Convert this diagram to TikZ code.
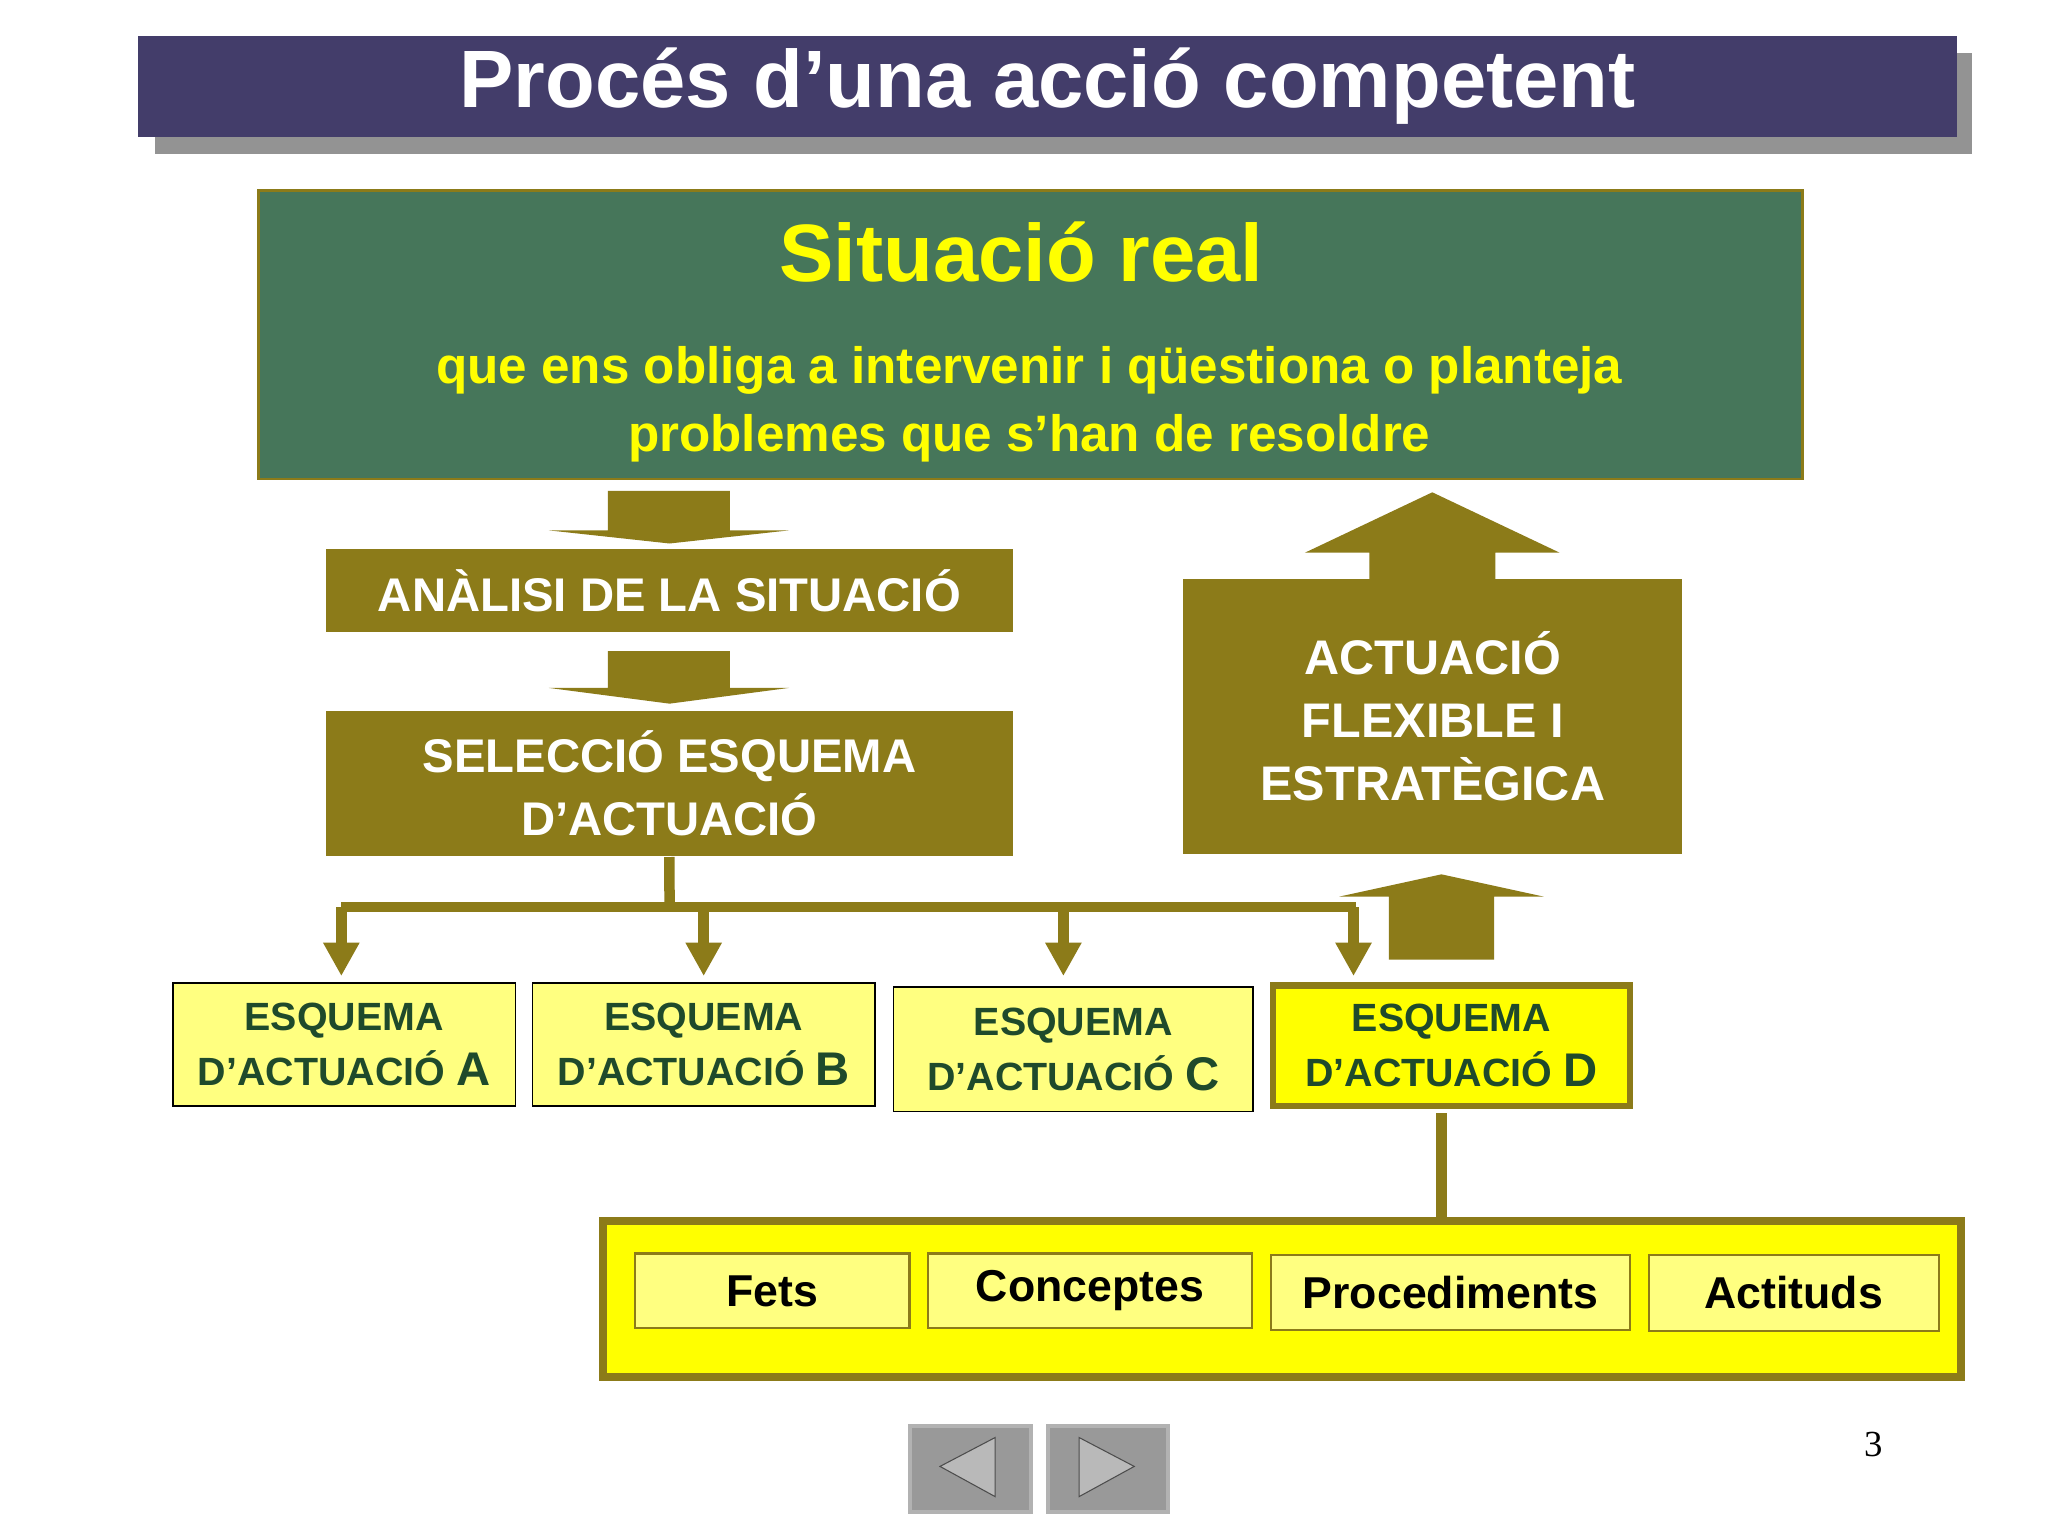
\documentclass[tikz,border=0pt]{standalone}
\usepackage{fontspec}
\setmainfont{Liberation Sans}
\definecolor{titlebg}{HTML}{433D6A}
\definecolor{greenbg}{HTML}{46765A}
\definecolor{olive}{HTML}{8C7B19}
\definecolor{lyel}{HTML}{FFFF80}
\definecolor{dgreen}{HTML}{1F4A2B}
\definecolor{ytxt}{HTML}{FFFF00}
\begin{document}
\begin{tikzpicture}[x=0.5pt,y=-0.5pt,
  olivebox/.style={fill=olive,draw=none,text=white,font=\bfseries\fontsize{18}{24}\selectfont,align=center,inner sep=0},
  esq/.style={fill=lyel,draw=black,line width=0.6pt,text=dgreen,font=\bfseries\fontsize{15}{21}\selectfont,align=center,inner sep=0},
  kbox/.style={fill=lyel,draw=olive,line width=0.8pt,text=black,font=\bfseries\fontsize{17}{20}\selectfont,inner sep=0},
  tree/.style={draw=olive,line width=4pt},
  navbtn/.style={fill=gray!80,draw=gray!60,line width=1.5pt}]
\useasboundingbox (0,0) rectangle (1560,1170);
\fill[white] (0,0) rectangle (1560,1170);
% title
\fill[gray!85] (118,40) rectangle (1502,117);
\node[fill=titlebg,minimum width=692.5pt,minimum height=38.5pt,inner sep=0,anchor=north west,text=white,font=\bfseries\fontsize{31}{36}\selectfont] (title) at (105,27) {Procés d’una acció competent};
% situacio real
\node[fill=greenbg,draw=olive,line width=1pt,minimum width=588pt,minimum height=110pt,anchor=north west,inner sep=0] (sit) at (196,144) {};
\node[text=ytxt,font=\bfseries\fontsize{31}{36}\selectfont] (sitt) at (778,192) {Situació real};
\node[text=ytxt,font=\bfseries\fontsize{19.5}{26}\selectfont,align=center] (sits) at (784,308) {que ens obliga a intervenir i qüestiona o planteja\\problemes que s’han de resoldre};
% arrows down
\fill[olive] (463,374) -- (556,374) -- (556,404) -- (601,404) -- (510,414) -- (418,404) -- (463,404) -- cycle;
\fill[olive] (463,496) -- (556,496) -- (556,524) -- (601,524) -- (510,536) -- (418,524) -- (463,524) -- cycle;
\node[olivebox,minimum width=261.5pt,minimum height=31.5pt,anchor=north west] (anal) at (248,418) {ANÀLISI DE LA SITUACIÓ};
\node[olivebox,minimum width=261.5pt,minimum height=55.5pt,anchor=north west] (sel) at (248,541) {SELECCIÓ ESQUEMA\\D’ACTUACIÓ};
\node[olivebox,minimum width=190pt,minimum height=104.5pt,anchor=north west,font=\bfseries\fontsize{18.5}{24}\selectfont] (act) at (901,441) {ACTUACIÓ\\FLEXIBLE I\\ESTRATÈGICA};
% up arrows
\fill[olive] (1043,441) -- (1043,421) -- (994,421) -- (1091,375) -- (1188,421) -- (1139,421) -- (1139,441) -- cycle;
\fill[olive] (1058,731) -- (1058,683) -- (1020,683) -- (1098,666) -- (1176,683) -- (1138,683) -- (1138,731) -- cycle;
% schemas
\node[esq,minimum width=130.5pt,minimum height=47pt,anchor=north west] (A) at (131,748) {ESQUEMA\\D’ACTUACIÓ {\fontsize{18}{21}\selectfont A}};
\node[esq,minimum width=130.5pt,minimum height=47pt,anchor=north west] (B) at (405,748) {ESQUEMA\\D’ACTUACIÓ {\fontsize{18}{21}\selectfont B}};
\node[esq,minimum width=137pt,minimum height=47.5pt,anchor=north west] (C) at (680,751) {ESQUEMA\\D’ACTUACIÓ {\fontsize{18}{21}\selectfont C}};
\node[esq,fill=ytxt,draw=olive,line width=2.5pt,minimum width=136pt,minimum height=46pt,anchor=north west] (D) at (967,748) {ESQUEMA\\D’ACTUACIÓ {\fontsize{18}{21}\selectfont D}};
% tree
\coordinate (j) at (510,691);
\draw[tree] (sel.south) -- (j);
\draw[tree] (260,691) -- (1033,691);
\foreach \x/\n in {260/A,536/B,810/C,1031/D}{
  \draw[tree] (\x,691) -- (\x,722);
  \fill[olive] (\x-14,718) -- (\x+14,718) -- (\x,743) -- cycle;
}
% bottom
\node[fill=ytxt,draw=olive,line width=3pt,minimum width=517.5pt,minimum height=59.5pt,anchor=north west,inner sep=0] (bot) at (456,927) {};
\draw[tree] (1098,848) -- (bot.north -| 1098,848);
\node[kbox,minimum width=104.5pt,minimum height=28.5pt,anchor=north west] (f) at (483,954) {Fets};
\node[kbox,minimum width=123.5pt,minimum height=28.5pt,anchor=north west] (c) at (706,954) {Conceptes};
\node[kbox,minimum width=137pt,minimum height=28.5pt,anchor=north west] (p) at (967,955) {Procediments};
\node[kbox,minimum width=110.5pt,minimum height=29pt,anchor=north west] (a) at (1255,955) {Actituds};
% page number
\node[font=\fontspec{Liberation Serif}\fontsize{14}{16}\selectfont] (pg) at (1427,1100) {3};
% nav
\node[navbtn,minimum width=46pt,minimum height=32.5pt,anchor=north west,inner sep=0] (prev) at (692,1085) {};
\node[navbtn,minimum width=45.5pt,minimum height=32.5pt,anchor=north west,inner sep=0] (next) at (797,1085) {};
\fill[gray!55,draw=black!70] (758,1095) -- (758,1140) -- (716,1117) -- cycle;
\fill[gray!55,draw=black!70] (822,1095) -- (822,1140) -- (864,1117) -- cycle;
\end{tikzpicture}
\end{document}
